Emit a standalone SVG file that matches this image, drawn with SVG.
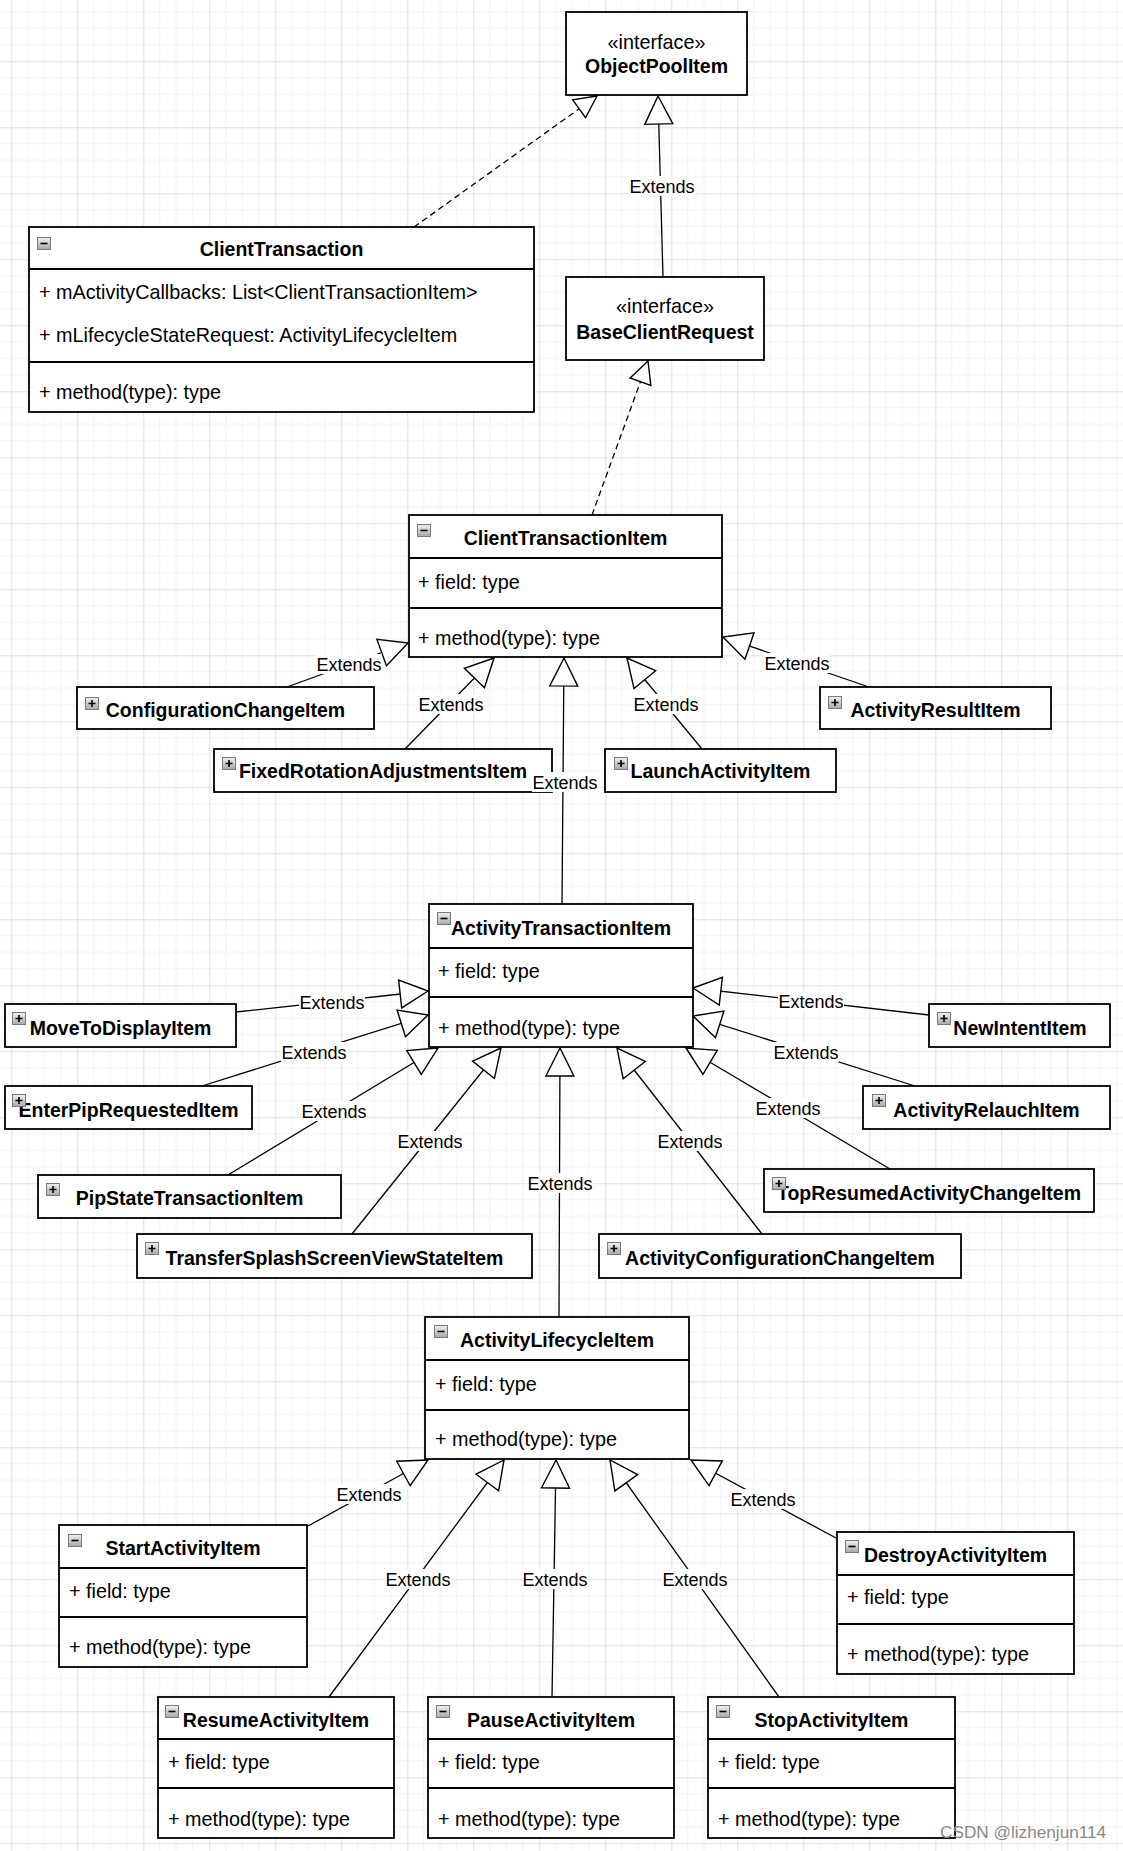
<svg xmlns="http://www.w3.org/2000/svg" xmlns:xlink="http://www.w3.org/1999/xlink" width="1123" height="1851" viewBox="0 0 1123 1851">
<defs>
<style>
.box{fill:#fff;stroke:#000;stroke-width:1.8}
.dv{stroke:#000;stroke-width:1.8}
.t{font-family:"Liberation Sans",Arial,sans-serif;font-size:19.8px;fill:#000}
.b{font-weight:bold;text-anchor:middle;font-size:19.5px}
.c{text-anchor:middle}
.ln{stroke:#000;stroke-width:1.3;fill:none}
.sol{marker-end:url(#ext)}
.dash{stroke-dasharray:6 4;marker-end:url(#real)}
.lb{fill:#fff}
.lt{font-family:"Liberation Sans",Arial,sans-serif;font-size:18px;fill:#000;text-anchor:middle}
</style>
<pattern id="grid" width="66" height="66" patternUnits="userSpaceOnUse" x="11.3" y="-4.7">
<rect width="66" height="66" fill="#fff"/>
<path d="M16.5,0V66M33,0V66M49.5,0V66M0,16.5H66M0,33H66M0,49.5H66" stroke="#f2f2f2" stroke-width="1"/>
<path d="M0.5,0V66M0,0.5H66" stroke="#e0e0e0" stroke-width="1"/>
</pattern>
<linearGradient id="ig" x1="0" y1="0" x2="0" y2="1">
<stop offset="0" stop-color="#f0f0f0"/>
<stop offset="1" stop-color="#a8a8a8"/>
</linearGradient>
<g id="im"><rect x="0.5" y="0.5" width="13" height="12" fill="url(#ig)" stroke="#7a7a7a" stroke-width="1"/><path d="M3.5,6.5H10.5" stroke="#000" stroke-width="1.6"/></g>
<g id="ip"><rect x="0.5" y="0.5" width="13" height="12" fill="url(#ig)" stroke="#7a7a7a" stroke-width="1"/><path d="M3.5,6.5H10.5M7,3V10" stroke="#000" stroke-width="1.6"/></g>
<marker id="ext" markerUnits="userSpaceOnUse" markerWidth="40" markerHeight="40" viewBox="-32 -20 40 40" refX="0" refY="0" orient="auto" overflow="visible">
<path d="M0,0L-28,-14L-28,14Z" fill="#fff" stroke="#000" stroke-width="1.4"/>
</marker>
<marker id="real" markerUnits="userSpaceOnUse" markerWidth="40" markerHeight="40" viewBox="-32 -20 40 40" refX="0" refY="0" orient="auto" overflow="visible">
<path d="M0,0L-22,-11L-22,11Z" fill="#fff" stroke="#000" stroke-width="1.4"/>
</marker>
</defs>
<rect width="1123" height="1851" fill="url(#grid)"/>

<g id="nodes">
<g id="ObjectPoolItem">
<rect class="box" x="566" y="12" width="181" height="83"/>
<text class="t c" x="656.5" y="49">«interface»</text>
<text class="t b" x="656.5" y="73">ObjectPoolItem</text>
</g>
<g id="ClientTransaction">
<rect class="box" x="29" y="227" width="505" height="185"/>
<path class="dv" d="M29,269H534M29,362H534"/>
<use xlink:href="#im" x="37" y="237"/>
<text class="t b" x="281.5" y="256">ClientTransaction</text>
<text class="t" x="39" y="299">+ mActivityCallbacks: List&lt;ClientTransactionItem&gt;</text>
<text class="t" x="39" y="342">+ mLifecycleStateRequest: ActivityLifecycleItem</text>
<text class="t" x="39" y="399">+ method(type): type</text>
</g>
<g id="BaseClientRequest">
<rect class="box" x="566" y="277" width="198" height="83"/>
<text class="t c" x="665" y="313">«interface»</text>
<text class="t b" x="665" y="339">BaseClientRequest</text>
</g>
<g id="ClientTransactionItem">
<rect class="box" x="409" y="515" width="313" height="142"/>
<path class="dv" d="M409,558H722M409,608H722"/>
<use xlink:href="#im" x="417" y="524"/>
<text class="t b" x="565.5" y="545">ClientTransactionItem</text>
<text class="t" x="418" y="589">+ field: type</text>
<text class="t" x="418" y="645">+ method(type): type</text>
</g>
<g id="ConfigurationChangeItem">
<rect class="box" x="77" y="687" width="297" height="42"/>
<use xlink:href="#ip" x="85" y="697"/>
<text class="t b" x="225.5" y="717">ConfigurationChangeItem</text>
</g>
<g id="FixedRotationAdjustmentsItem">
<rect class="box" x="214" y="749" width="338" height="43"/>
<use xlink:href="#ip" x="222" y="757"/>
<text class="t b" x="383" y="778">FixedRotationAdjustmentsItem</text>
</g>
<g id="LaunchActivityItem">
<rect class="box" x="605" y="749" width="231" height="43"/>
<use xlink:href="#ip" x="614" y="757"/>
<text class="t b" x="720.5" y="778">LaunchActivityItem</text>
</g>
<g id="ActivityResultItem">
<rect class="box" x="820" y="687" width="231" height="42"/>
<use xlink:href="#ip" x="828" y="696"/>
<text class="t b" x="935.5" y="717">ActivityResultItem</text>
</g>
<g id="ActivityTransactionItem">
<rect class="box" x="429" y="904" width="264" height="143"/>
<path class="dv" d="M429,948H693M429,997H693"/>
<use xlink:href="#im" x="437" y="912"/>
<text class="t b" x="561" y="935">ActivityTransactionItem</text>
<text class="t" x="438" y="978">+ field: type</text>
<text class="t" x="438" y="1035">+ method(type): type</text>
</g>
<g id="MoveToDisplayItem">
<rect class="box" x="5" y="1004" width="231" height="43"/>
<use xlink:href="#ip" x="12" y="1012"/>
<text class="t b" x="120.5" y="1035">MoveToDisplayItem</text>
</g>
<g id="EnterPipRequestedItem">
<rect class="box" x="5" y="1086" width="247" height="43"/>
<text class="t b" x="128.5" y="1117">EnterPipRequestedItem</text>
<use xlink:href="#ip" x="12" y="1094"/>
</g>
<g id="PipStateTransactionItem">
<rect class="box" x="38" y="1175" width="303" height="43"/>
<use xlink:href="#ip" x="46" y="1183"/>
<text class="t b" x="189.5" y="1205">PipStateTransactionItem</text>
</g>
<g id="TransferSplashScreenViewStateItem">
<rect class="box" x="137" y="1234" width="395" height="44"/>
<use xlink:href="#ip" x="145" y="1242"/>
<text class="t b" x="334.5" y="1265">TransferSplashScreenViewStateItem</text>
</g>
<g id="NewIntentItem">
<rect class="box" x="929" y="1004" width="181" height="43"/>
<use xlink:href="#ip" x="937" y="1012"/>
<text class="t b" x="1020" y="1035">NewIntentItem</text>
</g>
<g id="ActivityRelauchItem">
<rect class="box" x="863" y="1086" width="247" height="43"/>
<use xlink:href="#ip" x="872" y="1094"/>
<text class="t b" x="986.5" y="1117">ActivityRelauchItem</text>
</g>
<g id="TopResumedActivityChangeItem">
<rect class="box" x="764" y="1169" width="330" height="43"/>
<text class="t b" x="929" y="1200">TopResumedActivityChangeItem</text>
<use xlink:href="#ip" x="772" y="1177"/>
</g>
<g id="ActivityConfigurationChangeItem">
<rect class="box" x="599" y="1234" width="362" height="44"/>
<use xlink:href="#ip" x="607" y="1242"/>
<text class="t b" x="780" y="1265">ActivityConfigurationChangeItem</text>
</g>
<g id="ActivityLifecycleItem">
<rect class="box" x="425" y="1317" width="264" height="142"/>
<path class="dv" d="M425,1360H689M425,1410H689"/>
<use xlink:href="#im" x="434" y="1325"/>
<text class="t b" x="557" y="1347">ActivityLifecycleItem</text>
<text class="t" x="435" y="1391">+ field: type</text>
<text class="t" x="435" y="1446">+ method(type): type</text>
</g>
<g id="StartActivityItem">
<rect class="box" x="59" y="1525" width="248" height="142"/>
<path class="dv" d="M59,1568H307M59,1617H307"/>
<use xlink:href="#im" x="68" y="1534"/>
<text class="t b" x="183" y="1555">StartActivityItem</text>
<text class="t" x="69" y="1598">+ field: type</text>
<text class="t" x="69" y="1654">+ method(type): type</text>
</g>
<g id="DestroyActivityItem">
<rect class="box" x="837" y="1532" width="237" height="142"/>
<path class="dv" d="M837,1575H1074M837,1624H1074"/>
<use xlink:href="#im" x="845" y="1540"/>
<text class="t b" x="955.5" y="1562">DestroyActivityItem</text>
<text class="t" x="847" y="1604">+ field: type</text>
<text class="t" x="847" y="1661">+ method(type): type</text>
</g>
<g id="ResumeActivityItem">
<rect class="box" x="158" y="1697" width="236" height="141"/>
<path class="dv" d="M158,1739H394M158,1788H394"/>
<use xlink:href="#im" x="165" y="1705"/>
<text class="t b" x="276" y="1727">ResumeActivityItem</text>
<text class="t" x="168" y="1769">+ field: type</text>
<text class="t" x="168" y="1826">+ method(type): type</text>
</g>
<g id="PauseActivityItem">
<rect class="box" x="428" y="1697" width="246" height="141"/>
<path class="dv" d="M428,1739H674M428,1788H674"/>
<use xlink:href="#im" x="436" y="1705"/>
<text class="t b" x="551" y="1727">PauseActivityItem</text>
<text class="t" x="438" y="1769">+ field: type</text>
<text class="t" x="438" y="1826">+ method(type): type</text>
</g>
<g id="StopActivityItem">
<rect class="box" x="708" y="1697" width="247" height="141"/>
<path class="dv" d="M708,1739H955M708,1788H955"/>
<use xlink:href="#im" x="716" y="1705"/>
<text class="t b" x="831.5" y="1727">StopActivityItem</text>
<text class="t" x="718" y="1769">+ field: type</text>
<text class="t" x="718" y="1826">+ method(type): type</text>
</g>
</g>

<g id="connectors">
<path class="ln dash" d="M414,227L597,96"/>
<path class="ln sol" d="M663,277L658,96"/>
<path class="ln dash" d="M592,515L648,361"/>
<path class="ln sol" d="M287,687L408,643"/>
<path class="ln sol" d="M405,749L494,658"/>
<path class="ln sol" d="M562,904L564,658"/>
<path class="ln sol" d="M702,749L627,658"/>
<path class="ln sol" d="M869,687L723,637"/>
<path class="ln sol" d="M236,1012L428,991"/>
<path class="ln sol" d="M202,1086L428,1015"/>
<path class="ln sol" d="M228,1175L438,1048"/>
<path class="ln sol" d="M352,1234L501,1048"/>
<path class="ln sol" d="M559,1317L560,1048"/>
<path class="ln sol" d="M762,1234L617,1048"/>
<path class="ln sol" d="M890,1169L686,1048"/>
<path class="ln sol" d="M915,1086L693,1016"/>
<path class="ln sol" d="M929,1015L693,988"/>
<path class="ln sol" d="M308,1526L428,1460"/>
<path class="ln sol" d="M329,1697L504,1460"/>
<path class="ln sol" d="M552,1697L556,1460"/>
<path class="ln sol" d="M779,1697L610,1460"/>
<path class="ln sol" d="M836,1538L691,1460"/>
<g id="labels">
<rect class="lb" x="629" y="176" width="66" height="20"/><text class="lt" x="662" y="192.5">Extends</text>
<rect class="lb" x="316" y="654" width="66" height="20"/><text class="lt" x="349" y="670.5">Extends</text>
<rect class="lb" x="418" y="694" width="66" height="20"/><text class="lt" x="451" y="710.5">Extends</text>
<rect class="lb" x="532" y="772" width="66" height="20"/><text class="lt" x="565" y="788.5">Extends</text>
<rect class="lb" x="633" y="694" width="66" height="20"/><text class="lt" x="666" y="710.5">Extends</text>
<rect class="lb" x="764" y="653" width="66" height="20"/><text class="lt" x="797" y="669.5">Extends</text>
<rect class="lb" x="299" y="992" width="66" height="20"/><text class="lt" x="332" y="1008.5">Extends</text>
<rect class="lb" x="281" y="1042" width="66" height="20"/><text class="lt" x="314" y="1058.5">Extends</text>
<rect class="lb" x="301" y="1101" width="66" height="20"/><text class="lt" x="334" y="1117.5">Extends</text>
<rect class="lb" x="397" y="1131" width="66" height="20"/><text class="lt" x="430" y="1147.5">Extends</text>
<rect class="lb" x="527" y="1173" width="66" height="20"/><text class="lt" x="560" y="1189.5">Extends</text>
<rect class="lb" x="657" y="1131" width="66" height="20"/><text class="lt" x="690" y="1147.5">Extends</text>
<rect class="lb" x="755" y="1098" width="66" height="20"/><text class="lt" x="788" y="1114.5">Extends</text>
<rect class="lb" x="773" y="1042" width="66" height="20"/><text class="lt" x="806" y="1058.5">Extends</text>
<rect class="lb" x="778" y="991" width="66" height="20"/><text class="lt" x="811" y="1007.5">Extends</text>
<rect class="lb" x="336" y="1484" width="66" height="20"/><text class="lt" x="369" y="1500.5">Extends</text>
<rect class="lb" x="385" y="1569" width="66" height="20"/><text class="lt" x="418" y="1585.5">Extends</text>
<rect class="lb" x="522" y="1569" width="66" height="20"/><text class="lt" x="555" y="1585.5">Extends</text>
<rect class="lb" x="662" y="1569" width="66" height="20"/><text class="lt" x="695" y="1585.5">Extends</text>
<rect class="lb" x="730" y="1489" width="66" height="20"/><text class="lt" x="763" y="1505.5">Extends</text>
</g>
</g>
<text x="940" y="1838" font-family="'Liberation Sans',Arial,sans-serif" font-size="17.2px" fill="#888">CSDN @lizhenjun114</text>
</svg>
